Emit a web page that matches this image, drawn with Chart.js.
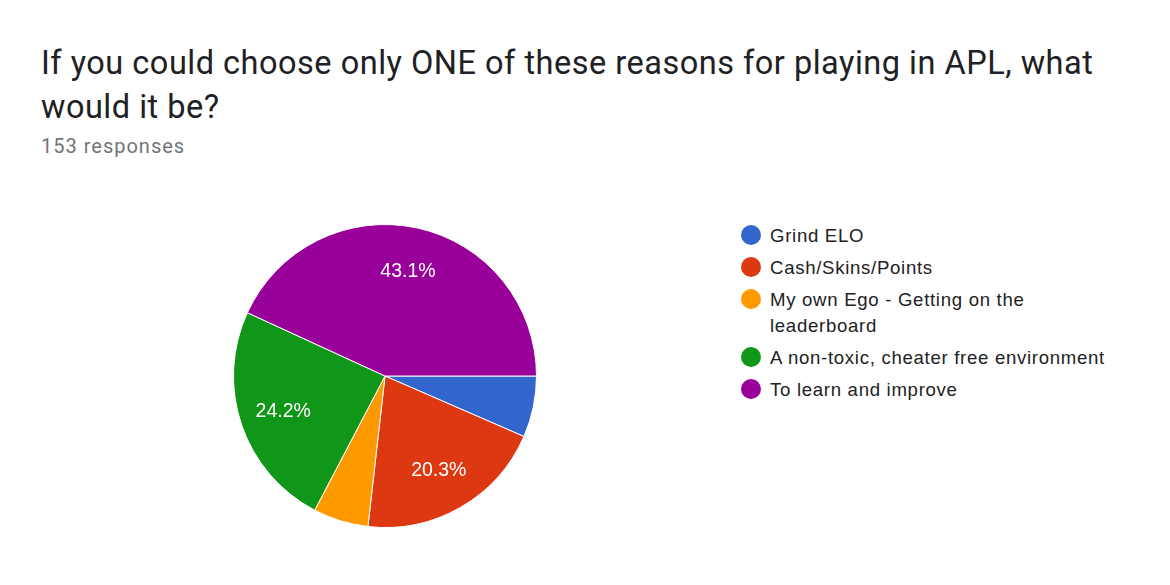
<!DOCTYPE html>
<html>
<head>
<meta charset="utf-8">
<script src="https://cdn.jsdelivr.net/npm/chart.js@4.4.1/dist/chart.umd.min.js"></script>
<style>
  html, body { margin: 0; padding: 0; background: #fff; }
  body { width: 1170px; height: 585px; position: relative; overflow: hidden; }
  #title { position: absolute; left: 41px; top: 41px; font-family: Roboto, sans-serif; font-size: 32.5px; line-height: 44px; letter-spacing: 0.5px; color: #202124; white-space: nowrap; }
  #sub { position: absolute; left: 41px; top: 134px; font-family: Roboto, sans-serif; font-size: 20px; letter-spacing: 1px; color: #70757a; }
  #pieBox { position: absolute; left: 233px; top: 224px; width: 304px; height: 304px; }
  #legend { position: absolute; left: 740px; top: 223px; font-family: "Liberation Sans", Arial, sans-serif; font-size: 18.6px; letter-spacing: 0.7px; color: #222; }
  .item { position: relative; padding-left: 30px; margin-bottom: 6px; line-height: 26px; width: 355px; }
  .dot { position: absolute; left: 1px; top: 2px; width: 20px; height: 20px; border-radius: 50%; }
</style>
</head>
<body>
<div id="title">If you could choose only ONE of these reasons for playing in APL, what<br>would it be?</div>
<div id="sub">153 responses</div>
<div id="pieBox"><canvas id="pie"></canvas></div>
<div id="legend"></div>
<script>
const categories = ['Grind ELO', 'Cash/Skins/Points', 'My own Ego - Getting on the leaderboard', 'A non-toxic, cheater free environment', 'To learn and improve'];
const counts = [10, 31, 9, 37, 66];
const colors = ['#3366cc', '#dc3912', '#ff9900', '#109618', '#990099'];

const total = counts.reduce((a, b) => a + b, 0);

// legend built from the same arrays
const legend = document.getElementById('legend');
categories.forEach((c, i) => {
  const row = document.createElement('div');
  row.className = 'item';
  row.innerHTML = '<span class="dot" style="background:' + colors[i] + '"></span>' + c;
  legend.appendChild(row);
});

// percent labels inside the big slices
const sliceLabels = {
  id: 'sliceLabels',
  afterDatasetsDraw(chart) {
    const ctx = chart.ctx;
    const meta = chart.getDatasetMeta(0);
    ctx.save();
    ctx.fillStyle = '#fff';
    ctx.font = '19.5px "Liberation Sans", Arial, sans-serif';
    ctx.textAlign = 'center';
    ctx.textBaseline = 'middle';
    meta.data.forEach((arc, i) => {
      const pct = counts[i] / total * 100;
      if (pct < 10) return;
      const p = arc.getProps(['x', 'y', 'startAngle', 'endAngle', 'outerRadius'], true);
      const mid = (p.startAngle + p.endAngle) / 2;
      const r = p.outerRadius * 0.71;
      ctx.fillText(pct.toFixed(1) + '%', p.x + Math.cos(mid) * r, p.y + Math.sin(mid) * r + 1);
    });
    ctx.restore();
  }
};

new Chart(document.getElementById('pie'), {
  type: 'pie',
  data: {
    labels: categories,
    datasets: [{
      data: counts,
      backgroundColor: colors,
      borderColor: '#fff',
      borderWidth: 1
    }]
  },
  options: {
    responsive: true,
    maintainAspectRatio: false,
    animation: false,
    rotation: 90,
    layout: { padding: 0 },
    plugins: {
      legend: { display: false },
      tooltip: { enabled: false }
    }
  },
  plugins: [sliceLabels]
});
</script>
</body>
</html>
